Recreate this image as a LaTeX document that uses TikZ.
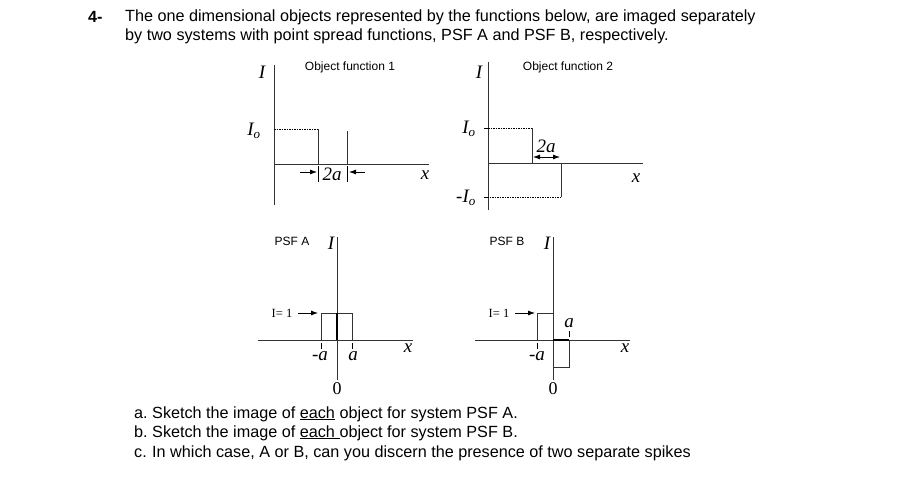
\documentclass[tikz,border=0pt]{standalone}
\usepackage{fontspec}
\usetikzlibrary{arrows.meta}
\setmainfont{Liberation Sans}
\newfontfamily\tms{Liberation Serif}
\begin{document}
\begin{tikzpicture}[x=1pt,y=-1pt,
  ln/.style={line width=0.8pt,black!80},
  dsh/.style={line width=0.6pt,dash pattern=on 1.5pt off 1pt},
  txt/.style={font=\fontsize{16.2}{18}\selectfont,anchor=west,inner sep=0},
  sm/.style={font=\fontsize{12}{14}\selectfont,inner sep=0},
  mth/.style={font=\tms\itshape\fontsize{19}{21}\selectfont,inner sep=0},
  arr/.style={-{Latex[length=7pt,width=5pt]},line width=0.8pt}]
\useasboundingbox (0,0) rectangle (899,481);
% header
\node[txt] (n4) at (88,17) {\textbf{4-}};
\node[txt] (h1) at (125,17) {The one dimensional objects represented by the functions below, are imaged separately};
\node[txt] (h2) at (125,36) {by two systems with point spread functions, PSF A and PSF B, respectively.};
% object 1
\coordinate (a1t) at (274,65); \coordinate (a1b) at (274,205);
\coordinate (x1l) at (274,164); \coordinate (x1r) at (429,164);
\draw[ln] (a1t) -- (a1b); \draw[ln] (x1l) -- (x1r);
\coordinate (p1) at (274,129); \coordinate (p2) at (318,129); \coordinate (p3) at (318,164);
\draw[dsh] (p1) -- (p2); \draw[ln] (p2) -- (p3);
\coordinate (s1) at (347,131); \coordinate (s2) at (347,164);
\draw[ln] (s1) -- (s2);
\coordinate (q1) at (300,172); \coordinate (q2) at (317,172);
\coordinate (q3) at (365,172); \coordinate (q4) at (349,172);
\draw[arr] (q1) -- (q2); \draw[arr] (q3) -- (q4);
\draw[line width=0.5pt] (318,166) -- (318,182) (347,166) -- (347,182);
\node[mth] (l2a) at (332,174) {2a};
\node[mth] (lx1) at (425,175) {x};
\node[mth] (lI1) at (262,72) {I};
\node[mth] (lIo1) at (254,131) {I\textsubscript{\fontsize{13}{14}\selectfont o}};
\node[sm] (t1) at (350,67) {Object function 1};
% object 2
\coordinate (a2t) at (488,62); \coordinate (a2b) at (488,210);
\coordinate (x2l) at (488,163); \coordinate (x2r) at (643,163);
\draw[ln] (a2t) -- (a2b); \draw[ln] (x2l) -- (x2r);
\coordinate (r1) at (488,128); \coordinate (r2) at (532,128); \coordinate (r3) at (532,163);
\draw[dsh] (r1) -- (r2); \draw[ln] (r2) -- (r3);
\coordinate (r4) at (561,163); \coordinate (r5) at (561,197); \coordinate (r6) at (488,197);
\draw[ln] (r4) -- (r5); \draw[dsh] (r5) -- (r6);
\coordinate (d1) at (533,157); \coordinate (d2) at (560,157);
\draw[{Latex[length=7pt,width=5pt]}-{Latex[length=7pt,width=5pt]},line width=0.8pt] (d1) -- (d2);
\node[mth] (l2b) at (546,146) {2a};
\node[mth] (lx2) at (636,178) {x};
\node[mth] (lI2) at (479,72) {I};
\node[mth] (lIo2) at (469,129) {I\textsubscript{\fontsize{13}{14}\selectfont o}};
\node[mth] (lmIo2) at (466,198) {-I\textsubscript{\fontsize{13}{14}\selectfont o}};
\draw[line width=0.5pt] (484,128) -- (488,128) (484,197) -- (488,197);
\node[sm] (t2) at (568,67) {Object function 2};
% PSF A
\coordinate (b1t) at (337,237); \coordinate (b1b) at (337,380);
\coordinate (y1l) at (258,340); \coordinate (y1r) at (413,340);
\draw[ln] (b1t) -- (b1b); \draw[ln] (y1l) -- (y1r);
\draw[ln] (321,340) -- (321,313) -- (352,313) -- (352,340);
\draw[line width=1.2pt] (337,313) -- (337,340);
\draw[line width=0.5pt] (321,343) -- (321,349) (352,343) -- (352,349);
\node[mth] (ma1) at (320,356) {-a};
\node[mth] (pa1) at (353,356) {a};
\node[mth] (xa) at (408,348) {x};
\node[font=\tms\fontsize{18}{20}\selectfont,inner sep=0] (za) at (337,389) {0};
\node[sm] (tpa) at (292,241) {PSF A};
\node[mth] (Ia) at (331,243) {I};
\node[font=\tms\fontsize{12.5}{14}\selectfont,inner sep=0] (i1a) at (282,313) {I= 1};
\coordinate (ea1) at (298,313); \coordinate (ea2) at (318,313);
\draw[arr] (ea1) -- (ea2);
% PSF B
\coordinate (b2t) at (553,237); \coordinate (b2b) at (553,380);
\coordinate (y2l) at (475,340); \coordinate (y2r) at (630,340);
\draw[ln] (b2t) -- (b2b); \draw[ln] (y2l) -- (y2r);
\draw[ln] (537,340) -- (537,313) -- (553,313);
\draw[ln] (553,340) -- (553,367) -- (569,367) -- (569,340);
\draw[line width=1.2pt] (553,340) -- (569,340);
\draw[line width=0.5pt] (537,343) -- (537,349) (569,337) -- (569,331);
\node[mth] (mb1) at (537,356) {-a};
\node[mth] (pb1) at (569,323) {a};
\node[mth] (xb) at (625,348) {x};
\node[font=\tms\fontsize{18}{20}\selectfont,inner sep=0] (zb) at (553,389) {0};
\node[sm] (tpb) at (507,241) {PSF B};
\node[mth] (Ib) at (547,243) {I};
\node[font=\tms\fontsize{12.5}{14}\selectfont,inner sep=0] (i1b) at (499,313) {I= 1};
\coordinate (eb1) at (515,313); \coordinate (eb2) at (535,313);
\draw[arr] (eb1) -- (eb2);
% questions
\node[txt,anchor=base west] (qa) at (134,418) {a.};
\node[txt,anchor=base west] (qat) at (152,418) {Sketch the image of \underline{each} object for system PSF A.};
\node[txt,anchor=base west] (qb) at (134,437) {b.};
\node[txt,anchor=base west] (qbt) at (152,437) {Sketch the image of \underline{each }object for system PSF B.};
\node[txt,anchor=base west] (qc) at (134,457) {c.};
\node[txt,anchor=base west] (qct) at (152,457) {In which case, A or B, can you discern the presence of two separate spikes};
\end{tikzpicture}
\end{document}
